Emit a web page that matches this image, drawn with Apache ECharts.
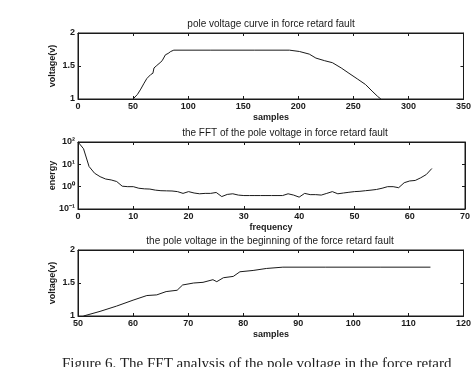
<!DOCTYPE html>
<html>
<head>
<meta charset="utf-8">
<script src="https://cdn.jsdelivr.net/npm/echarts@6/dist/echarts.min.js"></script>
<style>
html,body{margin:0;padding:0;background:#fff;}
#main{width:474px;height:367px;}
</style>
</head>
<body>
<div id="main"></div>
<script>
// pole voltage curve (whole record)
var samples1 = [50, 54, 57, 60, 62.5, 64.3, 66, 68, 69, 71, 72.7, 74.5, 75.2, 76.4, 78.2, 79.4, 81.8, 84.2, 87, 120, 160, 192, 201, 210, 216, 224, 231, 239, 246, 254, 261, 267, 272, 275];
var voltage1 = [1.0, 1.07, 1.15, 1.24, 1.31, 1.32, 1.37, 1.39, 1.47, 1.50, 1.51, 1.55, 1.52, 1.58, 1.60, 1.67, 1.69, 1.72, 1.74, 1.74, 1.74, 1.74, 1.72, 1.68, 1.62, 1.58, 1.55, 1.47, 1.39, 1.30, 1.22, 1.12, 1.04, 1.0];
// FFT energy, frequency 0..64
var freq = [0, 1, 2, 3, 4, 5, 6, 7, 8, 9, 10, 11, 12, 13, 14, 15, 16, 17, 18, 19, 20, 21, 22, 23, 24, 25, 26, 27, 28, 29, 30, 31, 32,
    33, 34, 35, 36, 37, 38, 39, 40, 41, 42, 43, 44, 45, 46, 47, 48, 49, 50, 51, 52, 53, 54, 55, 56, 57, 58, 59, 60, 61, 62, 63, 64];
var energy = [100, 50, 8, 4, 2.8, 2.2, 2.0, 1.7, 1.05, 1.0, 1.0, 0.85, 0.8, 0.78, 0.7, 0.66, 0.65, 0.64, 0.6, 0.5,
    0.6, 0.52, 0.48, 0.5, 0.5, 0.55, 0.36, 0.45, 0.48, 0.42, 0.4, 0.4, 0.4, 0.4, 0.4, 0.4, 0.4, 0.4, 0.48, 0.42,
    0.34, 0.5, 0.44, 0.44, 0.42, 0.5, 0.6, 0.48, 0.52, 0.56, 0.6, 0.62, 0.66, 0.7, 0.75, 0.85, 1.0, 1.0, 0.9, 1.5,
    1.8, 1.9, 2.5, 3.5, 6.5];
// beginning of the fault
var samples3 = [51, 54, 57, 60, 62.5, 64.3, 66, 68, 69, 71, 72.7, 74.5, 75.2, 76.4, 78.2, 79.4, 81.8, 84.2, 87.2, 95, 105, 114];
var voltage3 = [1.0, 1.07, 1.15, 1.24, 1.31, 1.32, 1.37, 1.39, 1.47, 1.50, 1.51, 1.55, 1.52, 1.58, 1.60, 1.67, 1.69, 1.72, 1.74, 1.74, 1.74, 1.74];

var titles = ['pole voltage curve in force retard fault', 'the FFT of the pole voltage in force retard fault', 'the pole voltage in the beginning of the force retard fault'];
var xNames = ['samples', 'frequency', 'samples'];
var yNames = ['voltage(v)', 'energy', 'voltage(v)'];
var caption = 'Figure 6. The FFT analysis of the pole voltage in the force retard';

var ink = '#1a1a1a';
var font = 'Liberation Sans';

function pairs(xs, ys) {
    var out = [];
    for (var i = 0; i < xs.length; i++) out.push([xs[i], ys[i]]);
    return out;
}
var supers = {'-1': '10\u207B\u00B9', '0': '10\u2070', '1': '10\u00B9', '2': '10\u00B2'};

function mkX(grid, min, max, interval, pos) {
    var main = pos === 'bottom';
    return {
        type: 'value', gridIndex: grid, position: pos, min: min, max: max, interval: interval,
        axisLine: {show: true, onZero: false, lineStyle: {color: ink, width: 1}},
        axisTick: {show: true, inside: true, length: 3, lineStyle: {color: ink}},
        axisLabel: {show: main, color: ink, fontSize: 9, fontFamily: font, fontWeight: 'bold', margin: 3},
        splitLine: {show: false}
    };
}
function mkY(grid, min, max, interval, pos, log) {
    var main = pos === 'left';
    var a = {
        type: log ? 'log' : 'value', gridIndex: grid, position: pos, min: min, max: max,
        axisLine: {show: true, onZero: false, lineStyle: {color: ink, width: 1}},
        axisTick: {show: true, inside: true, length: 3, lineStyle: {color: ink}},
        axisLabel: {show: main, color: ink, fontSize: 9, fontFamily: font, fontWeight: 'bold', margin: 3},
        splitLine: {show: false}
    };
    if (log) {
        a.logBase = 10;
        a.axisLabel.formatter = function (v) { return supers[String(Math.round(Math.log10(v)))]; };
    } else {
        a.interval = interval;
    }
    return a;
}

var tops = [33, 142, 250];
var heights = [66, 67, 66];
var titleX = [271, 285, 270];
var grids = [], xAxes = [], yAxes = [], graphics = [];
for (var g = 0; g < 3; g++) {
    grids.push({left: 78, right: 9, top: tops[g], height: heights[g], show: true, borderColor: ink, borderWidth: 1});
    // title, x name, y name
    graphics.push({type: 'text', x: titleX[g], y: tops[g] - 14,
        style: {text: titles[g], fill: ink, font: '10px ' + font, textAlign: 'center'}});
    graphics.push({type: 'text', x: 271, y: tops[g] + heights[g] + 14,
        style: {text: xNames[g], fill: ink, font: 'bold 9px ' + font, textAlign: 'center'}});
    graphics.push({type: 'text', x: 53, y: tops[g] + heights[g] / 2, rotation: Math.PI / 2,
        style: {text: yNames[g], fill: ink, font: 'bold 9px ' + font, textAlign: 'center', textVerticalAlign: 'middle'}});
}
// caption, cut off by the bottom edge
graphics.push({type: 'text', x: 62, y: 357,
    style: {text: caption, fill: '#222', font: '15px "Liberation Serif"'}});

xAxes.push(mkX(0, 0, 350, 50, 'bottom'), mkX(0, 0, 350, 50, 'top'));
xAxes.push(mkX(1, 0, 70, 10, 'bottom'), mkX(1, 0, 70, 10, 'top'));
xAxes.push(mkX(2, 50, 120, 10, 'bottom'), mkX(2, 50, 120, 10, 'top'));
yAxes.push(mkY(0, 1, 2, 0.5, 'left'), mkY(0, 1, 2, 0.5, 'right'));
yAxes.push(mkY(1, 0.1, 100, 0, 'left', true), mkY(1, 0.1, 100, 0, 'right', true));
yAxes.push(mkY(2, 1, 2, 0.5, 'left'), mkY(2, 1, 2, 0.5, 'right'));

function lineSeries(xi, yi, data) {
    return {type: 'line', xAxisIndex: xi, yAxisIndex: yi, data: data, symbol: 'none',
        lineStyle: {color: ink, width: 1}, animation: false};
}

var myChart = echarts.init(document.getElementById('main'));
myChart.setOption({
    animation: false,
    grid: grids,
    xAxis: xAxes,
    yAxis: yAxes,
    graphic: graphics,
    series: [
        lineSeries(0, 0, pairs(samples1, voltage1)),
        lineSeries(2, 2, pairs(freq, energy)),
        lineSeries(4, 4, pairs(samples3, voltage3))
    ]
});
</script>
</body>
</html>
